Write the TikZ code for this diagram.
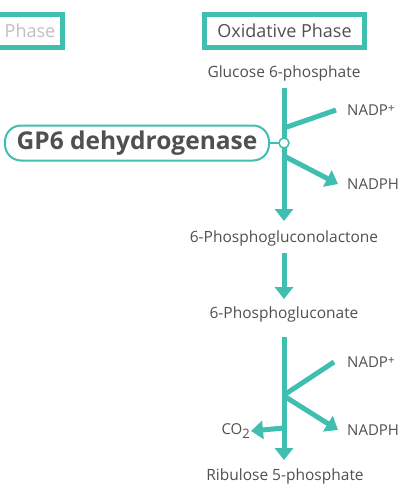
\documentclass[tikz,border=0pt]{standalone}
\usepackage{fontspec}
\setmainfont{Open Sans}
\usetikzlibrary{arrows.meta,positioning}
\definecolor{pathteal}{RGB}{64,190,176}
\definecolor{inktext}{RGB}{80,80,80}
\newcommand{\plussup}{\raisebox{0.35ex}{\fontsize{12}{12}\selectfont+}}
\newcommand{\twosub}{\raisebox{-0.4ex}{\fontsize{13}{13}\selectfont 2}}

\begin{document}
\begin{tikzpicture}[
    x=1pt, y=-1pt,
    phase node/.style={rectangle,draw=pathteal,line width=5pt,minimum height=33pt,font=\fontsize{18}{21}\selectfont,text=inktext},
    compound node/.style={font=\fontsize{15.5}{18}\selectfont,text=inktext,inner sep=1pt},
    cofactor node/.style={font=\fontsize{15}{18}\selectfont,text=inktext,inner sep=1pt},
    enzyme node/.style={rectangle,rounded corners=16pt,draw=pathteal,line width=2pt,fill=white,minimum width=264pt,minimum height=35pt,font=\fontsize{24.5}{28}\selectfont\bfseries,text=inktext},
    flow/.style={draw=pathteal,line width=5pt,-{Triangle[width=18pt,length=12pt]}},
    branch/.style={draw=pathteal,line width=5pt}
]
\useasboundingbox (0,0) rectangle (413,500);

% Phase headers
\node[phase node, minimum width=65pt, text=gray!50] (prevphase) at (30,31) {Phase};
\node[phase node, minimum width=160pt] (oxphase) at (284.5,31) {Oxidative Phase};

% Compounds
\node[compound node] (g6p) at (284,73) {Glucose 6-phosphate};
\node[compound node] (lactone) at (284,238) {6-Phosphogluconolactone};
\node[compound node] (gluconate) at (284,314) {6-Phosphogluconate};
\node[compound node] (ribulose) at (285,476) {Ribulose 5-phosphate};

% Cofactors
\node[cofactor node, anchor=west] (nadp1) at (346,110) {NADP\plussup};
\node[cofactor node, anchor=west] (nadph1) at (346,184) {NADPH};
\node[cofactor node, anchor=west] (nadp2) at (346,362) {NADP\plussup};
\node[cofactor node, anchor=west] (nadph2) at (346,430) {NADPH};
\node[cofactor node, anchor=east] (co2) at (251,431) {CO\twosub};

% Enzyme
\node[enzyme node] (enzyme) at (137,143) {GP6 dehydrogenase};

% Junctions
\coordinate (in1) at (284,128);
\coordinate (out1) at (284,156);
\coordinate (in2) at (284,395);
\coordinate (out2) at (284,396);
\coordinate (co2out) at (284,428);

% Arrows
\draw[flow] (g6p.south) ++(0,6) -- ([yshift=8pt]lactone.north);
\draw[branch] (in1) -- ([xshift=-10pt]nadp1.west);
\draw[flow] (out1) -- ([xshift=-8pt]nadph1.west);
\draw[draw=pathteal,line width=1.5pt] (enzyme.east) -- (284,143);
\node[circle,draw=pathteal,line width=1.5pt,fill=white,minimum size=10pt,inner sep=0pt] (site) at (284,143) {};

\draw[flow] ([yshift=-6pt]lactone.south) -- ([yshift=6pt]gluconate.north);

\draw[flow] (gluconate.south) ++(0,14) -- ([xshift=-1pt,yshift=7pt]ribulose.north);
\draw[branch] (in2) -- ([xshift=-12pt]nadp2.west);
\draw[flow] (out2) -- ([xshift=-8pt]nadph2.west);
\draw[flow] (co2out) -- (co2.east);

\end{tikzpicture}
\end{document}
